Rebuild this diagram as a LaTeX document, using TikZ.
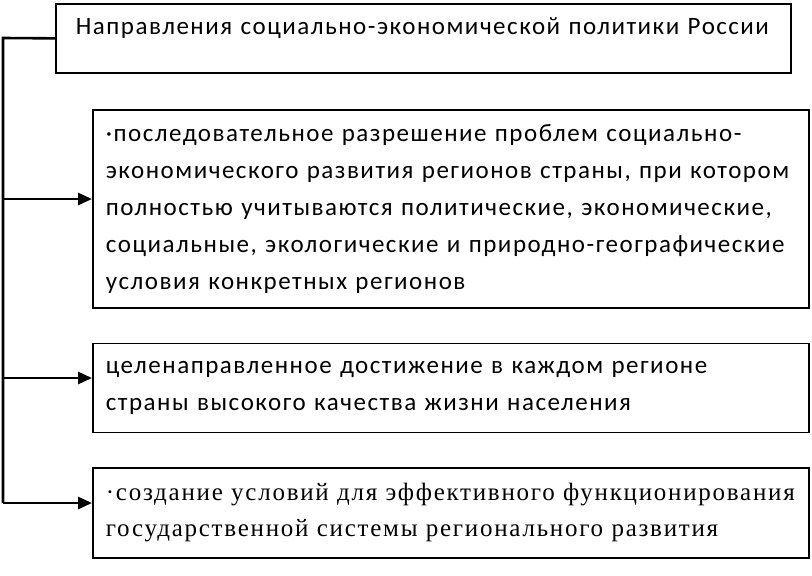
\documentclass[tikz,border=0pt]{standalone}
\usepackage{fontspec}
\setmainfont{Carlito}[LetterSpace=6]
\newfontfamily\serifru{Liberation Serif}[LetterSpace=7]
\usetikzlibrary{arrows.meta}
\begin{document}
\begin{tikzpicture}[x=1pt,y=-1pt,
    box/.style={draw, line width=1.7pt, anchor=west, align=left, text width=690pt, inner xsep=13pt, font=\fontsize{25}{37}\selectfont},
    link/.style={line width=2.6pt},
    arr/.style={link, -{Triangle[length=14pt,width=12pt]}}]
    \useasboundingbox (0,0) rectangle (812,576);

    \node at (55,3) [draw, line width=1.7pt, anchor=north west, align=left, text width=695pt, inner xsep=20pt, inner ysep=11pt, text height=20pt, text depth=27pt, font=\fontsize{25}{37}\selectfont] (title) {Направления социально-экономической политики России};

    \node at (92,209) [box, minimum height=198pt] (one) {·последовательное разрешение проблем социально-\\экономического развития регионов страны, при котором\\полностью учитываются политические, экономические,\\социальные, экологические и природно-географические\\условия конкретных регионов};
    \node at (92,388) [box, minimum height=89pt] (two) {целенаправленное достижение в каждом регионе\\страны высокого качества жизни населения};
    \node at (92,513) [box, minimum height=90pt, font=\serifru\fontsize{25}{36}\selectfont] (three) {·создание условий для эффективного функционирования\\государственной системы регионального развития};

    \coordinate (corner) at (3,38);
    \draw[link] (title.west) -- (corner) -- ([yshift=10pt]three.west -| corner);
    \foreach \b in {one,two,three}
        \draw[arr] ([yshift=10pt]\b.west -| corner) -- ([yshift=10pt]\b.west);
\end{tikzpicture}
\end{document}
